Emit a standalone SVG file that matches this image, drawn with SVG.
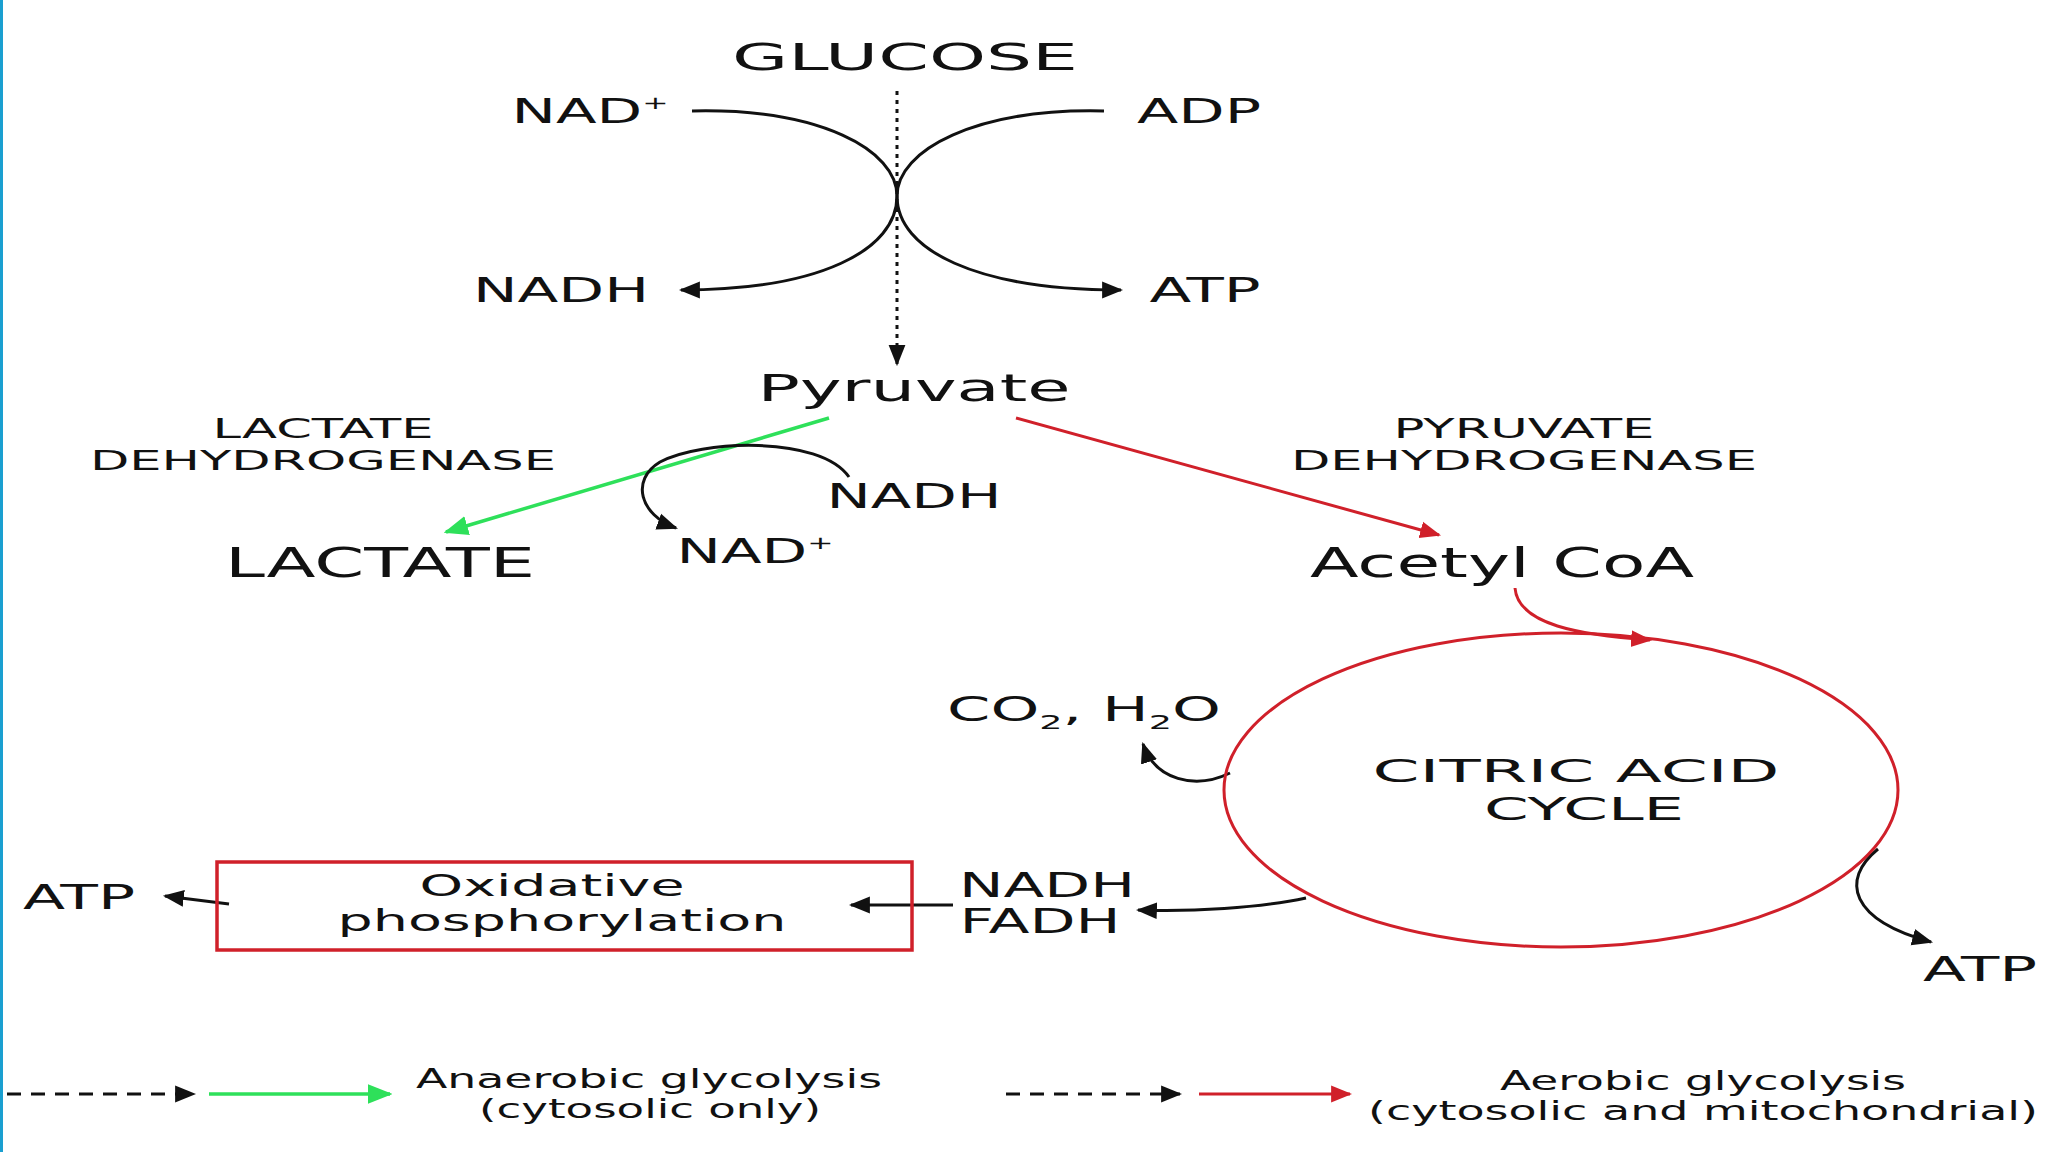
<svg xmlns="http://www.w3.org/2000/svg" width="2048" height="1152" viewBox="0 0 2048 1152">
<style>
text{font-family:"DejaVu Sans","Liberation Sans",sans-serif;fill:#111;text-anchor:middle}
.big{font-size:38px}.mid{font-size:34px}.sm{font-size:27px}.lg{font-size:30px}
.k{fill:none;stroke:#111;stroke-width:3}
.r{fill:none;stroke:#d0202a;stroke-width:3}
.g{fill:none;stroke:#2ee05a;stroke-width:3.5}
</style>
<defs>
<marker id="ak" viewBox="0 0 10 10" refX="9" refY="5" markerWidth="7" markerHeight="7" orient="auto"><path d="M0,1 L10,5 L0,9 Z" fill="#111"/></marker>
<marker id="ar" viewBox="0 0 10 10" refX="9" refY="5" markerWidth="7" markerHeight="7" orient="auto"><path d="M0,1 L10,5 L0,9 Z" fill="#d0202a"/></marker>
<marker id="ag" viewBox="0 0 10 10" refX="9" refY="5" markerWidth="7" markerHeight="7" orient="auto"><path d="M0,1 L10,5 L0,9 Z" fill="#2ee05a"/></marker>
</defs>
<rect width="2048" height="1152" fill="#fff"/>
<rect x="0" y="0" width="3" height="1152" fill="#1a9fd0"/>
<g id="connectors">
<path class="k" d="M897,91 V364" stroke-dasharray="4,5" marker-end="url(#ak)"/>
<path class="k" d="M692,111 C820,108 897,150 897,196 C897,250 820,290 681,290" marker-end="url(#ak)"/>
<path class="k" d="M1104,111 C976,108 897,150 897,196 C897,250 976,290 1121,290" marker-end="url(#ak)"/>
<path class="g" d="M829,418 L446,532" marker-end="url(#ag)"/>
<path class="k" d="M849,477 C820,435 700,440 660,462 C630,480 640,515 676,528" marker-end="url(#ak)"/>
<path class="r" d="M1016,418 L1439,535" marker-end="url(#ar)"/>
<path class="r" d="M1515,588 C1518,625 1580,635 1650,640" marker-end="url(#ar)"/>
<path class="k" d="M1230,773 C1195,790 1155,780 1143,744" marker-end="url(#ak)"/>
<path class="k" d="M1878,849 C1840,880 1850,920 1931,942" marker-end="url(#ak)"/>
<path class="k" d="M1306,898 C1260,908 1190,912 1138,910" marker-end="url(#ak)"/>
<path class="k" d="M953,905 H851" marker-end="url(#ak)"/>
<path class="k" d="M229,904 L165,896" marker-end="url(#ak)"/>
<path class="k" d="M7,1094 H194" stroke-dasharray="14,10" marker-end="url(#ak)"/>
<path class="g" d="M209,1094 H390" marker-end="url(#ag)"/>
<path class="k" d="M1006,1094 H1180" stroke-dasharray="14,10" marker-end="url(#ak)"/>
<path class="r" d="M1199,1094 H1350" marker-end="url(#ar)"/>
</g>
<g id="glucose"><text class="big" x="905" y="70" textLength="346" lengthAdjust="spacingAndGlyphs">GLUCOSE</text></g>
<g id="nad1"><text class="mid" x="590" y="123" textLength="157" lengthAdjust="spacingAndGlyphs">NAD<tspan font-size="18" dy="-14">+</tspan></text></g>
<g id="adp"><text class="mid" x="1199" y="123" textLength="124" lengthAdjust="spacingAndGlyphs">ADP</text></g>
<g id="nadh1"><text class="mid" x="561" y="302" textLength="176" lengthAdjust="spacingAndGlyphs">NADH</text></g>
<g id="atp1"><text class="mid" x="1205" y="302" textLength="111" lengthAdjust="spacingAndGlyphs">ATP</text></g>
<g id="pyruvate"><text class="big" x="914" y="401" textLength="313" lengthAdjust="spacingAndGlyphs">Pyruvate</text></g>
<g id="ldh"><text class="sm" x="323" y="438" textLength="221" lengthAdjust="spacingAndGlyphs">LACTATE</text><text class="sm" x="323" y="470" textLength="466" lengthAdjust="spacingAndGlyphs">DEHYDROGENASE</text></g>
<g id="pdh"><text class="sm" x="1524" y="438" textLength="261" lengthAdjust="spacingAndGlyphs">PYRUVATE</text><text class="sm" x="1524" y="470" textLength="466" lengthAdjust="spacingAndGlyphs">DEHYDROGENASE</text></g>
<g id="nadh2"><text class="mid" x="914" y="508" textLength="175" lengthAdjust="spacingAndGlyphs">NADH</text></g>
<g id="nad2"><text class="mid" x="755" y="563" textLength="157" lengthAdjust="spacingAndGlyphs">NAD<tspan font-size="18" dy="-14">+</tspan></text></g>
<g id="lactate"><text x="380" y="577" font-size="40" textLength="310" lengthAdjust="spacingAndGlyphs">LACTATE</text></g>
<g id="acetyl"><text x="1502" y="577" font-size="40" textLength="384" lengthAdjust="spacingAndGlyphs">Acetyl CoA</text></g>
<g id="cycle"><ellipse class="r" cx="1561" cy="790" rx="337" ry="157"/><text x="1576" y="782" font-size="32" textLength="407" lengthAdjust="spacingAndGlyphs">CITRIC ACID</text><text x="1584" y="820" font-size="32" textLength="200" lengthAdjust="spacingAndGlyphs">CYCLE</text></g>
<g id="co2"><text class="mid" x="1084" y="721" textLength="274" lengthAdjust="spacingAndGlyphs">CO<tspan font-size="20" dy="8">2</tspan><tspan dy="-8">, H</tspan><tspan font-size="20" dy="8">2</tspan><tspan dy="-8">O</tspan></text></g>
<g id="atp2"><text class="mid" x="1980" y="981" textLength="114" lengthAdjust="spacingAndGlyphs">ATP</text></g>
<g id="nadhfadh"><text class="mid" x="1047" y="897" textLength="176" lengthAdjust="spacingAndGlyphs">NADH</text><text class="mid" x="1040" y="933" textLength="161" lengthAdjust="spacingAndGlyphs">FADH</text></g>
<g id="oxphos"><rect x="217" y="862" width="695" height="88" fill="none" stroke="#d0202a" stroke-width="3.5"/><text class="lg" x="552" y="896" textLength="265" lengthAdjust="spacingAndGlyphs">Oxidative</text><text class="lg" x="562" y="931" textLength="449" lengthAdjust="spacingAndGlyphs">phosphorylation</text></g>
<g id="atp3"><text class="mid" x="79" y="909" textLength="112" lengthAdjust="spacingAndGlyphs">ATP</text></g>
<g id="legend1"><text class="sm" x="649" y="1088" textLength="466" lengthAdjust="spacingAndGlyphs">Anaerobic glycolysis</text><text class="sm" x="650" y="1118" textLength="342" lengthAdjust="spacingAndGlyphs">(cytosolic only)</text></g>
<g id="legend2"><text class="sm" x="1703" y="1090" textLength="406" lengthAdjust="spacingAndGlyphs">Aerobic glycolysis</text><text class="sm" x="1703" y="1120" textLength="670" lengthAdjust="spacingAndGlyphs">(cytosolic and mitochondrial)</text></g>
</svg>
